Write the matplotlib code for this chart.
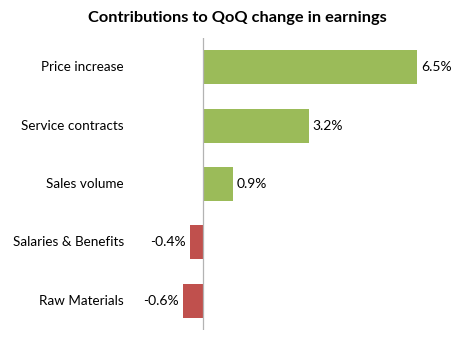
import matplotlib
matplotlib.use("Agg")
import matplotlib.pyplot as plt
from matplotlib.transforms import blended_transform_factory

plt.rcParams["font.family"] = ["Lato", "DejaVu Sans"]

categories = ["Price increase", "Service contracts", "Sales volume",
              "Salaries & Benefits", "Raw Materials"]
values = [6.5, 3.2, 0.9, -0.4, -0.6]

green = "#9BBB59"
red = "#C0504D"

W, H = 474, 339
fig = plt.figure(figsize=(W / 100, H / 100), dpi=100)
ax = fig.add_axes([150 / W, 9 / H, 300 / W, 292 / H])

pos = list(range(len(categories)))
colors = [green if v >= 0 else red for v in values]
ax.barh(pos, values, height=0.58, color=colors)

ax.set_xlim(-1.606, 7.485)
ax.set_ylim(4.5, -0.5)
ax.axvline(0, color="#b3b3b3", linewidth=0.9)

for s in ax.spines.values():
    s.set_visible(False)
ax.set_xticks([])
ax.set_yticks([])

for p, v in zip(pos, values):
    lbl = f"{v:.1f}%"
    if v >= 0:
        ax.text(v + 0.12, p, lbl, ha="left", va="center", fontsize=10)
    else:
        ax.text(v - 0.12, p, lbl, ha="right", va="center", fontsize=10)

trans = blended_transform_factory(fig.transFigure, ax.transData)
for p, c in zip(pos, categories):
    ax.text(124 / W, p, c, transform=trans, ha="right", va="center", fontsize=9.7)

fig.text(0.5, 1 - 18 / H, "Contributions to QoQ change in earnings",
         ha="center", va="center", fontsize=11.8, fontweight="bold")

fig.savefig("out.png", dpi=100, facecolor="white")
